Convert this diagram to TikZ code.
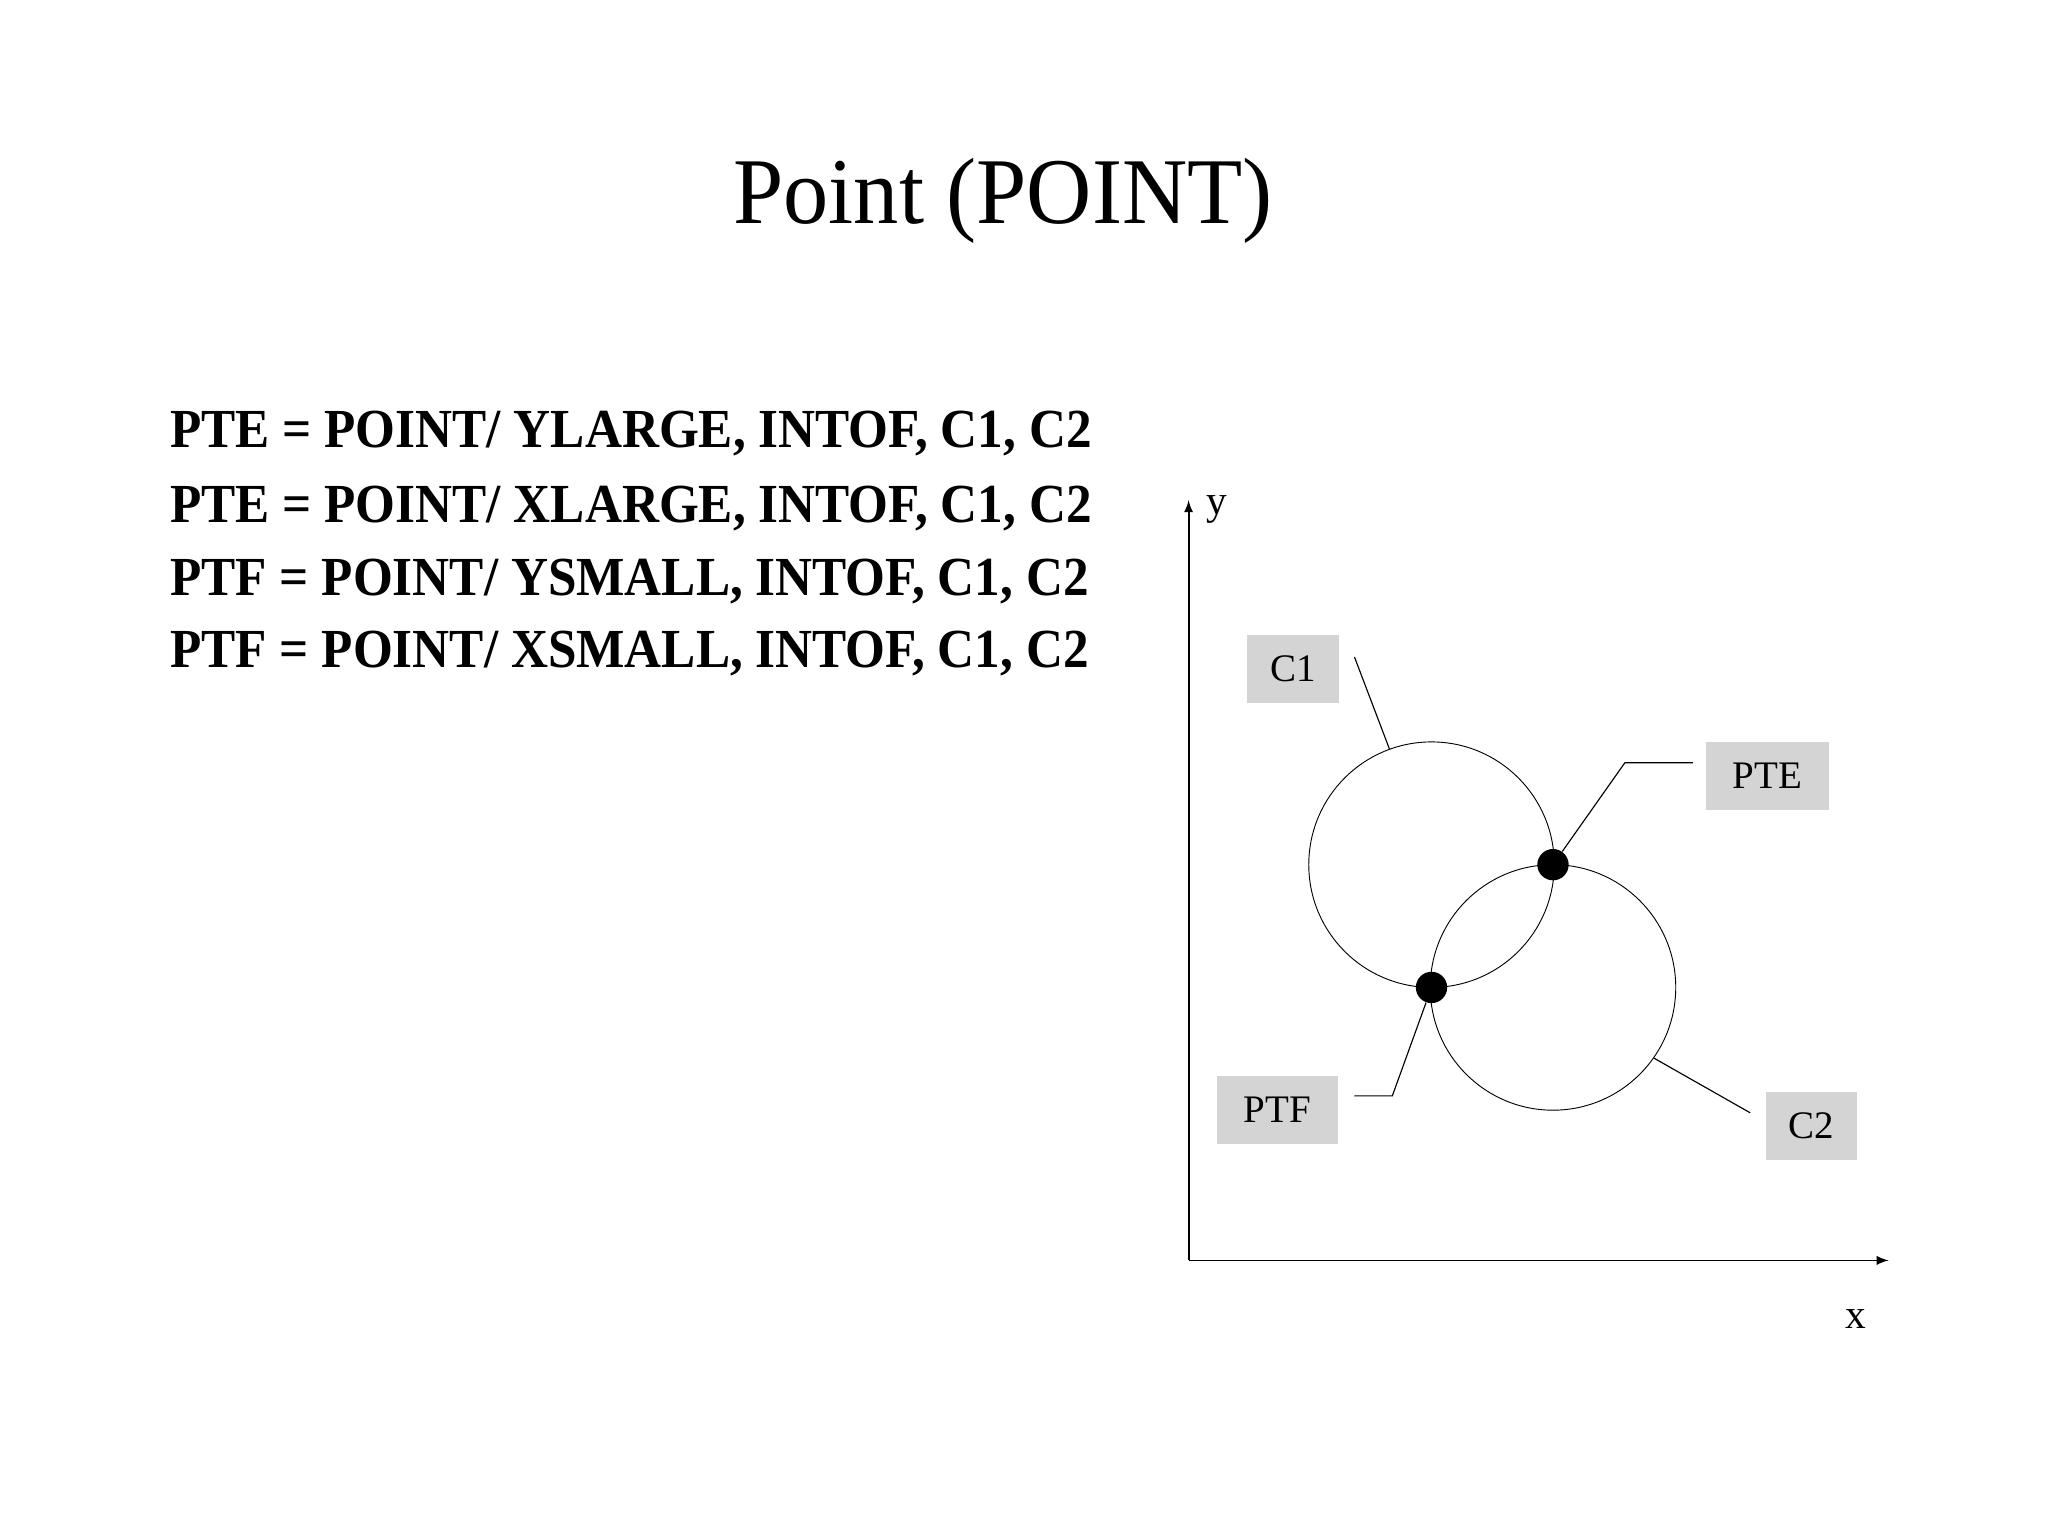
\documentclass[tikz,border=0pt]{standalone}
\usepackage{fontspec}
\setmainfont{Liberation Serif}
\newfontfamily\condfont[FakeStretch=0.93]{Liberation Serif}
\newfontfamily\titfont[FakeStretch=0.96]{Liberation Serif}
\begin{document}
\begin{tikzpicture}[x=0.02cm,y=-0.02cm,
  lab/.style={fill=black!17,minimum width=1.4cm,minimum height=1.04cm,font=\fontsize{17}{20}\selectfont,inner sep=0pt},
  code/.style={anchor=west,font=\condfont\fontsize{24}{30}\selectfont\bfseries,inner sep=0pt},
  circ/.style={circle,draw,minimum size=3.76cm,inner sep=0pt},
  dot/.style={circle,fill=black,minimum size=0.48cm,inner sep=0pt},
  lead/.style={line width=0.5pt}]
\useasboundingbox (0,0) rectangle (1568,1176);
\node[font=\titfont\fontsize{41}{48}\selectfont] (title) at (768,154) {Point (POINT)};
\node[code] (l1) at (130,332) {PTE = POINT/ YLARGE, INTOF, C1, C2};
\node[code] (l2) at (130,389) {PTE = POINT/ XLARGE, INTOF, C1, C2};
\node[code] (l3) at (130,445) {PTF = POINT/ YSMALL, INTOF, C1, C2};
\node[code] (l4) at (130,500) {PTF = POINT/ XSMALL, INTOF, C1, C2};
\coordinate (o) at (910,965);
\coordinate (yt) at (910,383);
\coordinate (xt) at (1446,965);
\draw[-latex,line width=0.8pt] (o) -- (yt);
\draw[-latex,line width=0.8pt] (o) -- (xt);
\node[font=\fontsize{18}{20}\selectfont] (ylab) at (932,390) {y};
\node[font=\fontsize{18}{20}\selectfont] (xlab) at (1421,1010) {x};
\node[circ] (c1) at (1096,662) {};
\node[circ] (c2) at (1189,756) {};
\node[dot] (pte) at (1189,662) {};
\node[dot] (ptf) at (1096,756) {};
\node[lab] (lc1) at (990,512) {C1};
\node[lab,minimum width=1.88cm] (lpte) at (1353,594) {PTE};
\node[lab,minimum width=1.86cm] (lptf) at (978,850) {PTF};
\node[lab] (lc2) at (1387,862) {C2};
\coordinate (a1) at (1037,503);
\coordinate (a2) at (1296,584);
\coordinate (a3) at (1244,584);
\coordinate (a4) at (1037,839);
\coordinate (a5) at (1066,839);
\coordinate (a6) at (1340,852);
\draw[lead] (a1) -- (c1.110);
\draw[lead] (a2) -- (a3) -- (pte);
\draw[lead] (a4) -- (a5) -- (ptf);
\draw[lead] (a6) -- (c2.-35);
\end{tikzpicture}
\end{document}
